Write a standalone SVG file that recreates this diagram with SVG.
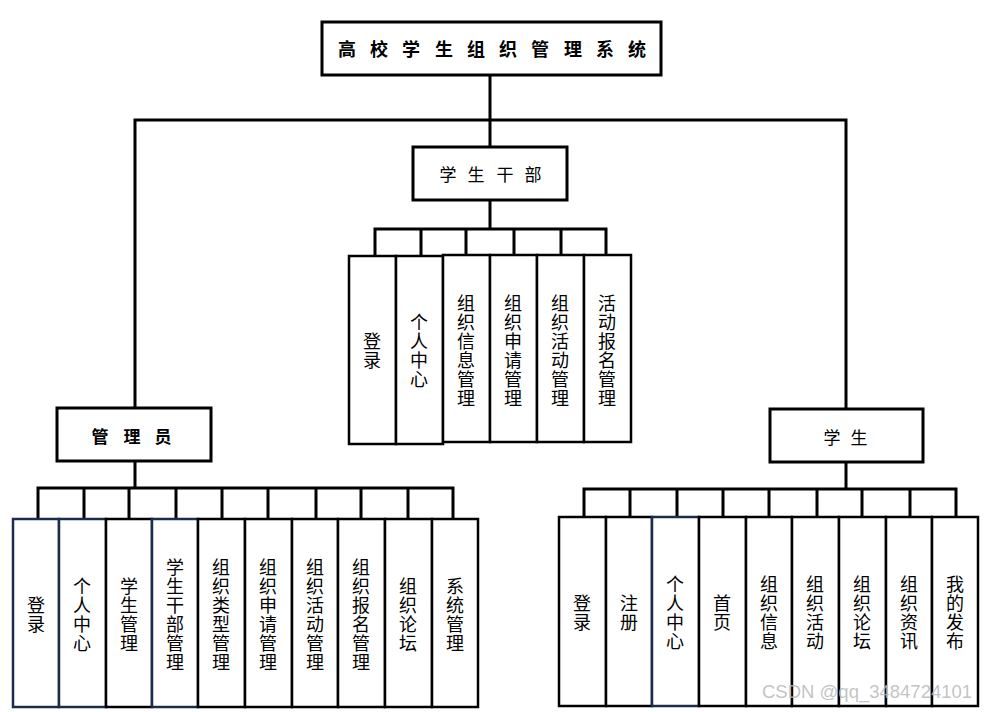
<svg xmlns="http://www.w3.org/2000/svg" width="988" height="712" viewBox="0 0 988 712">
<style>
.bg{fill:#ffffff}
.box{fill:#ffffff;stroke:#000;stroke-width:2.5}
.hbox{fill:#ffffff;stroke:#000;stroke-width:3}
.nv{stroke:#1c2c4c}
.ln{fill:none;stroke:#000;stroke-width:3;stroke-linecap:square}
text{font-family:"Noto Sans CJK SC","Noto Sans",sans-serif;fill:#000}
.t{font-size:18px;font-weight:bold;text-anchor:middle;dominant-baseline:central}
.h{font-size:17px;text-anchor:middle;dominant-baseline:central}
.v{font-size:18px;text-anchor:middle;dominant-baseline:central}
.wm{font-family:"Liberation Sans",Arial,sans-serif;font-size:18.5px;fill:#b8b8b8;fill-opacity:0.85}
</style>
<rect class="bg" x="0" y="0" width="988" height="712"/>
<g id="connectors">
<path class="ln" d="M490,75 V120 M135,120 H846 M135,120 V408 M846,120 V409 M490,120 V147"/>
<path class="ln" d="M490,200 V229 M375,229 H606 M375,229 V256 M421,229 V256 M466,229 V255 M514,229 V255 M561,229 V255 M606,229 V255"/>
<path class="ln" d="M135,461 V488 M38,488 H453 M38,488 V519 M84,488 V519 M129,488 V519 M176,488 V519 M222,488 V519 M268,488 V519 M316,488 V519 M361,488 V519 M408,488 V519 M453,488 V519"/>
<path class="ln" d="M846,462 V489 M584,489 H956 M584,489 V517 M630,489 V517 M677,489 V517 M723,489 V517 M769,489 V517 M817,489 V517 M862,489 V517 M910,489 V517 M956,489 V517"/>
</g>
<g id="title">
<rect class="hbox" x="322" y="22" width="339" height="53"/>
<text class="t"><tspan x="347" y="48">高</tspan><tspan x="379" y="48">校</tspan><tspan x="411" y="48">学</tspan><tspan x="444" y="48">生</tspan><tspan x="476" y="48">组</tspan><tspan x="508" y="48">织</tspan><tspan x="540" y="48">管</tspan><tspan x="573" y="48">理</tspan><tspan x="605" y="48">系</tspan><tspan x="637" y="48">统</tspan></text>
</g>
<g id="cadre">
<rect class="hbox" x="413" y="147" width="154" height="53"/>
<text class="h"><tspan x="448" y="173">学</tspan><tspan x="476" y="173">生</tspan><tspan x="505" y="173">干</tspan><tspan x="533" y="173">部</tspan></text>
</g>
<g id="admin">
<rect class="hbox" x="57" y="408" width="154" height="53"/>
<text class="t" style="font-size:17px"><tspan x="100" y="435">管</tspan><tspan x="132" y="435">理</tspan><tspan x="163" y="435">员</tspan></text>
</g>
<g id="student">
<rect class="hbox" x="770" y="409" width="153" height="53"/>
<text class="h"><tspan x="832" y="436">学</tspan><tspan x="859" y="436">生</tspan></text>
</g>
<g id="c-login"><rect class="box" x="349" y="256" width="47" height="188"/><text class="v"><tspan x="372" y="340">登</tspan><tspan x="372" y="359">录</tspan></text></g>
<g id="c-center"><rect class="box" x="396" y="256" width="47" height="188"/><text class="v"><tspan x="419" y="321">个</tspan><tspan x="419" y="340">人</tspan><tspan x="419" y="359">中</tspan><tspan x="419" y="378">心</tspan></text></g>
<g id="c-orginfo"><rect class="box" x="443" y="255" width="47" height="187"/><text class="v"><tspan x="466" y="302">组</tspan><tspan x="466" y="321">织</tspan><tspan x="466" y="340">信</tspan><tspan x="466" y="359">息</tspan><tspan x="466" y="378">管</tspan><tspan x="466" y="397">理</tspan></text></g>
<g id="c-orgapply"><rect class="box" x="490" y="255" width="47" height="187"/><text class="v"><tspan x="513" y="302">组</tspan><tspan x="513" y="321">织</tspan><tspan x="513" y="340">申</tspan><tspan x="513" y="359">请</tspan><tspan x="513" y="378">管</tspan><tspan x="513" y="397">理</tspan></text></g>
<g id="c-orgact"><rect class="box" x="537" y="255" width="47" height="187"/><text class="v"><tspan x="560" y="302">组</tspan><tspan x="560" y="321">织</tspan><tspan x="560" y="340">活</tspan><tspan x="560" y="359">动</tspan><tspan x="560" y="378">管</tspan><tspan x="560" y="397">理</tspan></text></g>
<g id="c-signup"><rect class="box" x="584" y="255" width="47" height="187"/><text class="v"><tspan x="607" y="302">活</tspan><tspan x="607" y="321">动</tspan><tspan x="607" y="340">报</tspan><tspan x="607" y="359">名</tspan><tspan x="607" y="378">管</tspan><tspan x="607" y="397">理</tspan></text></g>
<g id="a-login"><rect class="box nv" x="13" y="519" width="46" height="188"/><text class="v"><tspan x="36" y="604">登</tspan><tspan x="36" y="623">录</tspan></text></g>
<g id="a-center"><rect class="box nv" x="59" y="519" width="47" height="188"/><text class="v"><tspan x="82" y="585">个</tspan><tspan x="82" y="604">人</tspan><tspan x="82" y="623">中</tspan><tspan x="82" y="642">心</tspan></text></g>
<g id="a-stu"><rect class="box" x="106" y="519" width="46" height="188"/><text class="v"><tspan x="129" y="585">学</tspan><tspan x="129" y="604">生</tspan><tspan x="129" y="623">管</tspan><tspan x="129" y="642">理</tspan></text></g>
<g id="a-cadre"><rect class="box nv" x="152" y="519" width="46" height="188"/><text class="v"><tspan x="175" y="566">学</tspan><tspan x="175" y="585">生</tspan><tspan x="175" y="604">干</tspan><tspan x="175" y="623">部</tspan><tspan x="175" y="642">管</tspan><tspan x="175" y="661">理</tspan></text></g>
<g id="a-type"><rect class="box" x="198" y="519" width="47" height="188"/><text class="v"><tspan x="221" y="566">组</tspan><tspan x="221" y="585">织</tspan><tspan x="221" y="604">类</tspan><tspan x="221" y="623">型</tspan><tspan x="221" y="642">管</tspan><tspan x="221" y="661">理</tspan></text></g>
<g id="a-apply"><rect class="box" x="245" y="519" width="47" height="188"/><text class="v"><tspan x="268" y="566">组</tspan><tspan x="268" y="585">织</tspan><tspan x="268" y="604">申</tspan><tspan x="268" y="623">请</tspan><tspan x="268" y="642">管</tspan><tspan x="268" y="661">理</tspan></text></g>
<g id="a-act"><rect class="box" x="292" y="519" width="46" height="188"/><text class="v"><tspan x="315" y="566">组</tspan><tspan x="315" y="585">织</tspan><tspan x="315" y="604">活</tspan><tspan x="315" y="623">动</tspan><tspan x="315" y="642">管</tspan><tspan x="315" y="661">理</tspan></text></g>
<g id="a-signup"><rect class="box" x="338" y="519" width="47" height="188"/><text class="v"><tspan x="361" y="566">组</tspan><tspan x="361" y="585">织</tspan><tspan x="361" y="604">报</tspan><tspan x="361" y="623">名</tspan><tspan x="361" y="642">管</tspan><tspan x="361" y="661">理</tspan></text></g>
<g id="a-forum"><rect class="box" x="385" y="519" width="47" height="188"/><text class="v"><tspan x="408" y="585">组</tspan><tspan x="408" y="604">织</tspan><tspan x="408" y="623">论</tspan><tspan x="408" y="642">坛</tspan></text></g>
<g id="a-sys"><rect class="box" x="432" y="519" width="46" height="188"/><text class="v"><tspan x="455" y="585">系</tspan><tspan x="455" y="604">统</tspan><tspan x="455" y="623">管</tspan><tspan x="455" y="642">理</tspan></text></g>
<g id="s-login"><rect class="box" x="559" y="517" width="47" height="189"/><text class="v"><tspan x="582" y="602">登</tspan><tspan x="582" y="621">录</tspan></text></g>
<g id="s-reg"><rect class="box" x="606" y="517" width="46" height="189"/><text class="v"><tspan x="629" y="602">注</tspan><tspan x="629" y="621">册</tspan></text></g>
<g id="s-center"><rect class="box nv" x="652" y="517" width="47" height="189"/><text class="v"><tspan x="675" y="583">个</tspan><tspan x="675" y="602">人</tspan><tspan x="675" y="621">中</tspan><tspan x="675" y="640">心</tspan></text></g>
<g id="s-home"><rect class="box" x="699" y="517" width="47" height="189"/><text class="v"><tspan x="722" y="602">首</tspan><tspan x="722" y="621">页</tspan></text></g>
<g id="s-info"><rect class="box" x="746" y="517" width="46" height="189"/><text class="v"><tspan x="769" y="583">组</tspan><tspan x="769" y="602">织</tspan><tspan x="769" y="621">信</tspan><tspan x="769" y="640">息</tspan></text></g>
<g id="s-act"><rect class="box" x="792" y="517" width="47" height="189"/><text class="v"><tspan x="815" y="583">组</tspan><tspan x="815" y="602">织</tspan><tspan x="815" y="621">活</tspan><tspan x="815" y="640">动</tspan></text></g>
<g id="s-forum"><rect class="box" x="839" y="517" width="47" height="189"/><text class="v"><tspan x="862" y="583">组</tspan><tspan x="862" y="602">织</tspan><tspan x="862" y="621">论</tspan><tspan x="862" y="640">坛</tspan></text></g>
<g id="s-news"><rect class="box" x="886" y="517" width="46" height="189"/><text class="v"><tspan x="909" y="583">组</tspan><tspan x="909" y="602">织</tspan><tspan x="909" y="621">资</tspan><tspan x="909" y="640">讯</tspan></text></g>
<g id="s-mine"><rect class="box" x="932" y="517" width="46" height="189"/><text class="v"><tspan x="955" y="583">我</tspan><tspan x="955" y="602">的</tspan><tspan x="955" y="621">发</tspan><tspan x="955" y="640">布</tspan></text></g>
<text class="wm" x="762" y="698">CSDN @qq_3484724101</text>
</svg>
